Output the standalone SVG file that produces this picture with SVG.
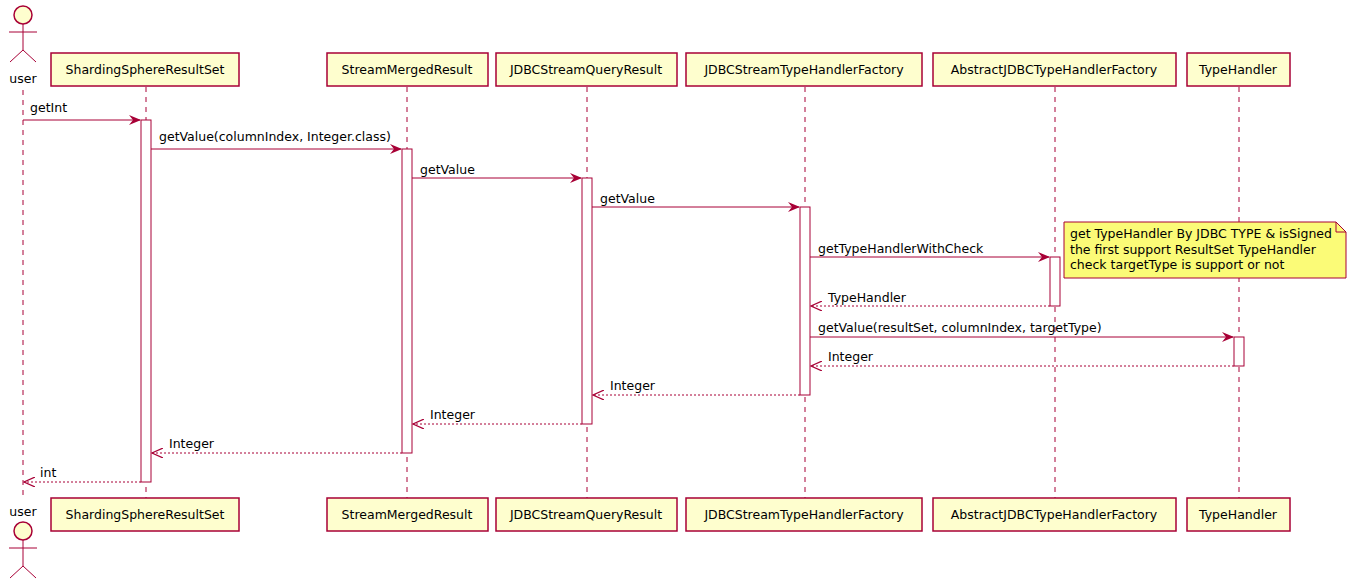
<svg xmlns="http://www.w3.org/2000/svg" width="1351" height="582" viewBox="0 0 1351 582">
<style>
text{font-family:"DejaVu Sans","Liberation Sans",sans-serif;font-size:12.5px;fill:#000}
.p{fill:#FEFECE;stroke:#A80036;stroke-width:1.5}
.life{stroke:#A80036;stroke-width:1;stroke-dasharray:5,5}
.act{fill:#fff;stroke:#A80036;stroke-width:1}
.m{stroke:#A80036;stroke-width:1;fill:none}
.r{stroke:#A80036;stroke-width:1;fill:none;stroke-dasharray:2,2}
</style>
<defs>
<marker id="a" viewBox="0 0 12 10" refX="11" refY="5" markerWidth="12" markerHeight="10" orient="auto" markerUnits="userSpaceOnUse">
<path d="M0,0 L12,5 L0,10 L4,5 Z" fill="#A80036"/></marker>
<marker id="o" viewBox="0 0 12 10" refX="11" refY="5" markerWidth="12" markerHeight="10" orient="auto" markerUnits="userSpaceOnUse">
<path d="M0,0 L11,5 L0,10" fill="none" stroke="#A80036" stroke-width="1.2"/></marker>
</defs>
<g id="lifelines">
<line class="life" x1="23" y1="90" x2="23" y2="498"/>
<line class="life" x1="146" y1="87" x2="146" y2="498"/>
<line class="life" x1="407" y1="87" x2="407" y2="498"/>
<line class="life" x1="587" y1="87" x2="587" y2="498"/>
<line class="life" x1="805" y1="87" x2="805" y2="498"/>
<line class="life" x1="1055" y1="87" x2="1055" y2="498"/>
<line class="life" x1="1239" y1="87" x2="1239" y2="498"/>
</g>
<g id="user">
<circle cx="23" cy="15" r="9" fill="#FEFECE" stroke="#A80036" stroke-width="1.5"/>
<path d="M23,24 V50 M9,32 H37 M23,50 L10,62 M23,50 L36,62" class="m" stroke-width="1.5"/>
<text x="23" y="83" text-anchor="middle" font-size="14">user</text>
<text x="23" y="516" text-anchor="middle" font-size="14">user</text>
<circle cx="23" cy="531" r="9" fill="#FEFECE" stroke="#A80036" stroke-width="1.5"/>
<path d="M23,540 V566 M9,548 H37 M23,566 L10,578 M23,566 L36,578" class="m" stroke-width="1.5"/>
</g>
<g id="ShardingSphereResultSet">
<rect class="p" x="51" y="53" width="188" height="33"/>
<text x="145" y="74" text-anchor="middle">ShardingSphereResultSet</text>
<rect class="p" x="51" y="498" width="188" height="33"/>
<text x="145" y="519" text-anchor="middle">ShardingSphereResultSet</text>
<rect class="act" x="141" y="120" width="10" height="362"/>
</g>
<g id="StreamMergedResult">
<rect class="p" x="327" y="53" width="161" height="33"/>
<text x="407" y="74" text-anchor="middle">StreamMergedResult</text>
<rect class="p" x="327" y="498" width="161" height="33"/>
<text x="407" y="519" text-anchor="middle">StreamMergedResult</text>
<rect class="act" x="402" y="149" width="10" height="304"/>
</g>
<g id="JDBCStreamQueryResult">
<rect class="p" x="496" y="53" width="181" height="33"/>
<text x="586" y="74" text-anchor="middle">JDBCStreamQueryResult</text>
<rect class="p" x="496" y="498" width="181" height="33"/>
<text x="586" y="519" text-anchor="middle">JDBCStreamQueryResult</text>
<rect class="act" x="582" y="178" width="10" height="246"/>
</g>
<g id="JDBCStreamTypeHandlerFactory">
<rect class="p" x="686" y="53" width="236" height="33"/>
<text x="804" y="74" text-anchor="middle">JDBCStreamTypeHandlerFactory</text>
<rect class="p" x="686" y="498" width="236" height="33"/>
<text x="804" y="519" text-anchor="middle">JDBCStreamTypeHandlerFactory</text>
<rect class="act" x="800" y="207" width="10" height="188"/>
</g>
<g id="AbstractJDBCTypeHandlerFactory">
<rect class="p" x="933" y="53" width="243" height="33"/>
<text x="1054" y="74" text-anchor="middle">AbstractJDBCTypeHandlerFactory</text>
<rect class="p" x="933" y="498" width="243" height="33"/>
<text x="1054" y="519" text-anchor="middle">AbstractJDBCTypeHandlerFactory</text>
<rect class="act" x="1050" y="257" width="10" height="49"/>
</g>
<g id="TypeHandler">
<rect class="p" x="1187" y="53" width="103" height="33"/>
<text x="1238" y="74" text-anchor="middle">TypeHandler</text>
<rect class="p" x="1187" y="498" width="103" height="33"/>
<text x="1238" y="519" text-anchor="middle">TypeHandler</text>
<rect class="act" x="1234" y="337" width="10" height="29"/>
</g>
<g id="note">
<path d="M1064,222 H1336 L1346,232 V278 H1064 Z" fill="#FBFB77" stroke="#A80036" stroke-width="1"/>
<path d="M1336,222 V232 H1346" fill="none" stroke="#A80036" stroke-width="1"/>
<text x="1070" y="238">get TypeHandler By JDBC TYPE &amp; isSigned</text>
<text x="1070" y="254">the first support ResultSet TypeHandler</text>
<text x="1070" y="269">check targetType is support or not</text>
</g>
<g id="connectors">
<line class="m" x1="23" y1="120" x2="140" y2="120" marker-end="url(#a)"/>
<text x="30" y="112">getInt</text>
<line class="m" x1="151" y1="149" x2="401" y2="149" marker-end="url(#a)"/>
<text x="159" y="141">getValue(columnIndex, Integer.class)</text>
<line class="m" x1="412" y1="178" x2="581" y2="178" marker-end="url(#a)"/>
<text x="420" y="174">getValue</text>
<line class="m" x1="592" y1="207" x2="799" y2="207" marker-end="url(#a)"/>
<text x="600" y="203">getValue</text>
<line class="m" x1="810" y1="257" x2="1049" y2="257" marker-end="url(#a)"/>
<text x="818" y="253">getTypeHandlerWithCheck</text>
<line class="r" x1="1050" y1="306" x2="811" y2="306" marker-end="url(#o)"/>
<text x="828" y="302">TypeHandler</text>
<line class="m" x1="810" y1="337" x2="1233" y2="337" marker-end="url(#a)"/>
<text x="818" y="332">getValue(resultSet, columnIndex, targetType)</text>
<line class="r" x1="1234" y1="366" x2="811" y2="366" marker-end="url(#o)"/>
<text x="828" y="361">Integer</text>
<line class="r" x1="800" y1="395" x2="593" y2="395" marker-end="url(#o)"/>
<text x="610" y="390">Integer</text>
<line class="r" x1="582" y1="424" x2="413" y2="424" marker-end="url(#o)"/>
<text x="430" y="419">Integer</text>
<line class="r" x1="402" y1="453" x2="152" y2="453" marker-end="url(#o)"/>
<text x="169" y="448">Integer</text>
<line class="r" x1="141" y1="482" x2="24" y2="482" marker-end="url(#o)"/>
<text x="40" y="477">int</text>
</g>
</svg>
